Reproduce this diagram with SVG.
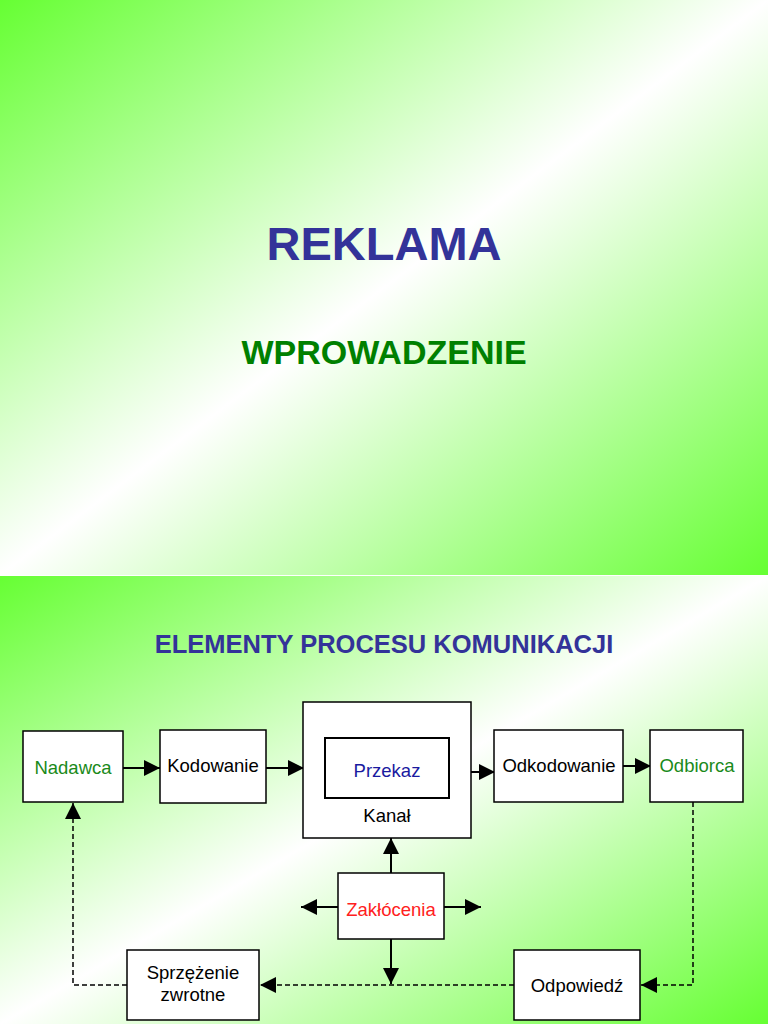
<svg xmlns="http://www.w3.org/2000/svg" width="768" height="1024" viewBox="0 0 768 1024">
<defs>
<linearGradient id="g" x1="0" y1="0" x2="1" y2="1">
<stop offset="0" stop-color="#66ff33"/><stop offset="0.5" stop-color="#ffffff"/><stop offset="1" stop-color="#66ff33"/>
</linearGradient>
<marker id="b" viewBox="0 0 10 10" refX="10" refY="5" markerWidth="16" markerHeight="16" markerUnits="userSpaceOnUse" orient="auto"><path d="M0,0L10,5L0,10z" fill="#000"/></marker>
<style>
.box{fill:#fff;stroke:#000;stroke-width:1.5}
.t{font-family:"Liberation Sans",Arial,sans-serif;font-size:18.5px;text-anchor:middle;fill:#000}
.ln{stroke:#000;stroke-width:2;fill:none;marker-end:url(#b)}
.d{stroke:#000;stroke-width:1.5;fill:none;stroke-dasharray:5,3}
</style>
</defs>
<rect x="0" y="0" width="768" height="575" fill="url(#g)"/>
<rect x="0" y="576" width="768" height="448" fill="url(#g)"/>
<text x="384" y="260" font-family="Liberation Sans,Arial,sans-serif" font-size="47" font-weight="bold" fill="#333399" text-anchor="middle">REKLAMA</text>
<text x="384" y="364" font-family="Liberation Sans,Arial,sans-serif" font-size="34" font-weight="bold" fill="#008000" text-anchor="middle">WPROWADZENIE</text>
<text x="384" y="653" font-family="Liberation Sans,Arial,sans-serif" font-size="25.5" font-weight="bold" fill="#333399" text-anchor="middle">ELEMENTY PROCESU KOMUNIKACJI</text>
<g id="connectors">
<line class="ln" x1="123" y1="768" x2="160" y2="768"/>
<line class="ln" x1="266" y1="768" x2="304" y2="768"/>
<line class="ln" x1="471" y1="772" x2="495" y2="772"/>
<line class="ln" x1="623" y1="766" x2="651" y2="766"/>
<line class="ln" x1="391" y1="873" x2="391" y2="838"/>
<line class="ln" x1="338" y1="907" x2="301" y2="907"/>
<line class="ln" x1="444" y1="907" x2="481" y2="907"/>
<line class="ln" x1="391" y1="939" x2="391" y2="984"/>
<path class="d" d="M693,802V985H641" marker-end="url(#b)"/>
<path class="d" d="M514,985H260" marker-end="url(#b)"/>
<path class="d" d="M127,985H73V803" marker-end="url(#b)"/>
</g>
<g id="nadawca"><rect class="box" x="23" y="731" width="100" height="71"/><text class="t" x="73" y="774" style="fill:#1a8a1a">Nadawca</text></g>
<g id="kodowanie"><rect class="box" x="160" y="730" width="106" height="73"/><text class="t" x="213" y="772">Kodowanie</text></g>
<g id="kanal"><rect class="box" x="303" y="702" width="168" height="136"/><text class="t" x="387" y="822">Kanał</text></g>
<g id="przekaz"><rect class="box" x="325" y="738" width="124" height="60" style="stroke-width:2"/><text class="t" x="387" y="777" style="fill:#1a1aa0">Przekaz</text></g>
<g id="odkodowanie"><rect class="box" x="494" y="730" width="129" height="72"/><text class="t" x="559" y="772">Odkodowanie</text></g>
<g id="odbiorca"><rect class="box" x="650" y="730" width="93" height="72"/><text class="t" x="697" y="772" style="fill:#1a8a1a">Odbiorca</text></g>
<g id="zaklocenia"><rect class="box" x="338" y="873" width="106" height="66"/><text class="t" x="391" y="916" style="fill:#ff2020">Zakłócenia</text></g>
<g id="sprzezenie"><rect class="box" x="127" y="950" width="132" height="70"/><text class="t" x="193" y="979">Sprzężenie</text><text class="t" x="193" y="1001">zwrotne</text></g>
<g id="odpowiedz"><rect class="box" x="514" y="950" width="126" height="70"/><text class="t" x="577" y="992">Odpowiedź</text></g>
</svg>
